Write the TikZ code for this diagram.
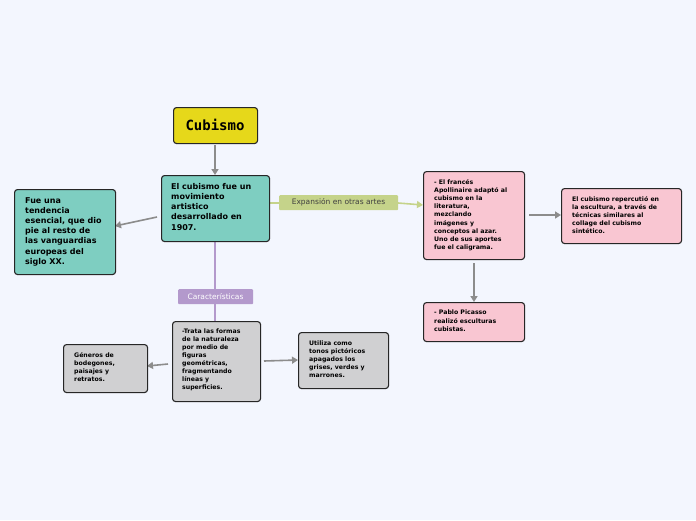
\documentclass[tikz,border=0pt]{standalone}
\usepackage{fontspec}
\setmainfont{DejaVu Sans}
\usetikzlibrary{arrows.meta}
\definecolor{bg}{HTML}{F3F6FE}
\definecolor{teal}{HTML}{7ECEC1}
\definecolor{yel}{HTML}{E6D81A}
\definecolor{grn}{HTML}{C5D38A}
\definecolor{pur}{HTML}{B399CC}
\definecolor{gry}{HTML}{D0D0D2}
\definecolor{pnk}{HTML}{F9C6D2}
\definecolor{arr}{HTML}{8C8C8C}
\tikzset{
 box/.style={draw=black!85,line width=1.1pt,rounded corners=3pt,anchor=north west,inner sep=0pt},
 txt/.style={anchor=north west,align=left,font=\bfseries,inner sep=0pt},
 lab/.style={rounded corners=1pt,inner sep=0pt,anchor=north west},
 con/.style={draw=arr,line width=1.6pt,-{Triangle[length=6pt,width=7pt]}},
}
\begin{document}
\begin{tikzpicture}[x=1pt,y=-1pt]
\fill[bg] (0,0) rectangle (696,520);
\useasboundingbox (0,0) rectangle (696,520);
% connectors first
\draw[con] (215,145) -- (215,175);
\draw[con] (157,217) -- (115,226);
\draw[grn,line width=1.6pt] (269,203) -- (279,203);
\draw[con,draw=grn] (398,203) -- (423,205);
\draw[pur,line width=1.6pt] (215,241) -- (215,321);
\draw[con] (168,364) -- (147,366);
\draw[con] (264,361) -- (298,360);
\draw[con] (529,215) -- (561,215);
\draw[con] (474,263) -- (474,302);
% boxes
\node[box,fill=yel,minimum width=84pt,minimum height=36pt] (cub) at (173,107) {};
\node[font=\fontspec{DejaVu Sans Mono}\bfseries\fontsize{14}{14}\selectfont] at (215,125) {Cubismo};
\node[box,fill=teal,minimum width=108pt,minimum height=66pt] (main) at (161,175) {};
\node[txt,font=\bfseries\fontsize{8}{10.2}\selectfont] at (171,183) {El cubismo fue un\\movimiento\\artistico\\desarrollado en\\1907.};
\node[box,fill=teal,minimum width=101pt,minimum height=85pt] (left) at (14,189) {};
\node[txt,font=\bfseries\fontsize{8}{10.2}\selectfont] at (25,197) {Fue una\\tendencia\\esencial, que dio\\pie al resto de\\las vanguardias\\europeas del\\siglo XX.};
\node[lab,fill=grn,minimum width=119pt,minimum height=15pt] (exp) at (279,195) {};
\node[font=\fontsize{7.5}{8}\selectfont,text=black!75] at (338.5,202.5) {Expansión en otras artes};
\node[lab,fill=pur,minimum width=75pt,minimum height=15pt] (car) at (178,289) {};
\node[font=\fontsize{7.5}{8}\selectfont,text=white] at (215.5,296.5) {Características};
\node[box,fill=gry,minimum width=88pt,minimum height=80pt] (tra) at (172,321) {};
\node[txt,font=\bfseries\fontsize{6.2}{8}\selectfont] at (182,329) {-Trata las formas\\de la naturaleza\\por medio de\\figuras\\geométricas,\\fragmentando\\líneas y\\superficies.};
\node[box,fill=gry,minimum width=84pt,minimum height=48pt] (gen) at (63,344) {};
\node[txt,font=\bfseries\fontsize{6.2}{8}\selectfont] at (74,352) {Géneros de\\bodegones,\\paisajes y\\retratos.};
\node[box,fill=gry,minimum width=90pt,minimum height=56pt] (uti) at (298,332) {};
\node[txt,font=\bfseries\fontsize{6.2}{8}\selectfont] at (309,341) {Utiliza como\\tonos pictóricos\\apagados los\\grises, verdes y\\marrones.};
\node[box,fill=pnk,minimum width=101pt,minimum height=88pt] (apo) at (423,171) {};
\node[txt,font=\bfseries\fontsize{6.2}{8.2}\selectfont] at (434,179) {- El francés\\Apollinaire adaptó al\\cubismo en la\\literatura,\\mezclando\\imágenes y\\conceptos al azar.\\Uno de sus aportes\\fue el caligrama.};
\node[box,fill=pnk,minimum width=120pt,minimum height=55pt] (esc) at (561,188) {};
\node[txt,font=\bfseries\fontsize{6.2}{8.2}\selectfont] at (572,196) {El cubismo repercutió en\\la escultura, a través de\\técnicas similares al\\collage del cubismo\\sintético.};
\node[box,fill=pnk,minimum width=101pt,minimum height=39pt] (pic) at (423,302) {};
\node[txt,font=\bfseries\fontsize{6.2}{8.2}\selectfont] at (434,310) {- Pablo Picasso\\realizó esculturas\\cubistas.};
\end{tikzpicture}
\end{document}
